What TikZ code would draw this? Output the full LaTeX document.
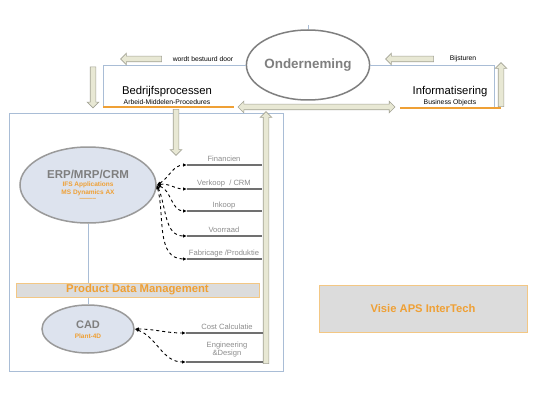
\documentclass[tikz,border=0pt]{standalone}
\usepackage{fontspec}
\setmainfont{Liberation Sans}
\usetikzlibrary{shapes.arrows,shapes.geometric,arrows.meta}
\definecolor{orng}{HTML}{EFA035}
\definecolor{txtgray}{HTML}{7F7F7F}
\definecolor{fngray}{HTML}{8C8C8C}
\definecolor{lblue}{HTML}{A9BDD6}
\definecolor{ellfill}{HTML}{DDE3EE}
\definecolor{ellbord}{HTML}{9A9A9A}
\definecolor{arrfill}{HTML}{E8E8D4}
\definecolor{arrbord}{HTML}{A3A395}
\definecolor{boxfill}{HTML}{DCDCDC}
\definecolor{boxbord}{HTML}{F3C784}
\definecolor{fnline}{HTML}{707070}
\tikzset{
  blockarrow/.style={single arrow, draw=arrbord, fill=arrfill, line width=0.6pt,
    minimum height=#1, minimum width=11pt, single arrow head extend=3pt,
    single arrow head indent=0pt, inner xsep=0pt, inner ysep=2.5pt},
  dblarrow/.style={double arrow, draw=arrbord, fill=arrfill, line width=0.6pt,
    minimum height=#1, minimum width=11pt, double arrow head extend=3pt,
    double arrow head indent=0pt, inner xsep=0pt, inner ysep=2.5pt},
  fnlabel/.style={font=\fontsize{7.6}{8.5}\selectfont, text=fngray, inner sep=0pt, align=center},
  fnl/.style={draw=fnline, line width=2.4pt},
  dasharr/.style={dashed, line width=0.9pt, {Latex[length=4pt,width=3.5pt]}-{Latex[length=4pt,width=3.5pt]}},
  smalltxt/.style={font=\fontsize{6.8}{7.5}\selectfont, inner sep=0pt},
  bigtxt/.style={font=\fontsize{11.3}{13}\selectfont, inner sep=0pt},
  orngtxt/.style={font=\bfseries\fontsize{6.5}{7.5}\selectfont, text=orng, inner sep=0pt, align=center},
  barbox/.style={draw=boxbord, fill=boxfill, line width=0.8pt, inner sep=0pt, text=orng},
}
\begin{document}
\begin{tikzpicture}[x=1pt,y=-1pt]
\useasboundingbox (0,0) rectangle (560,420);

% Onderneming
\coordinate (ontop) at (308,25);
\node[ellipse, draw=txtgray, line width=1.5pt, fill=white, minimum width=102pt, minimum height=70pt, inner sep=0pt,
  font=\bfseries\fontsize{13.4}{15}\selectfont, text=txtgray] (ond) at (308,65) {Onderneming};
\draw[lblue, line width=0.6pt] (ontop) -- (ond.north);

% frame lines
\coordinate (bl) at (103,65);
\coordinate (blb) at (103,107);
\coordinate (br) at (494,65);
\coordinate (brb) at (494,108);
\draw[lblue, line width=0.8pt] (ond.west) -- (bl) -- (blb);
\draw[lblue, line width=0.8pt] (ond.east) -- (br) -- (brb);

% orange lines
\coordinate (bo1) at (103,107);
\coordinate (bo2) at (234,107);
\coordinate (io1) at (400,108);
\coordinate (io2) at (501,108);
\draw[orng, line width=2pt] (bo1) -- (bo2);
\draw[orng, line width=2pt] (io1) -- (io2);

% texts top
\node[bigtxt] (bedr) at (167,92) {Bedrijfsprocessen};
\node[smalltxt] (amp) at (167,102.5) {Arbeid-Middelen-Procedures};
\node[bigtxt] (info) at (450,92) {Informatisering};
\node[smalltxt] (bo) at (450,102.5) {Business Objects};
\node[smalltxt] (wbd) at (203,59) {wordt bestuurd door};
\node[smalltxt] (bijs) at (463,59) {Bijsturen};

% block arrows top
\node[blockarrow=41pt, rotate=180] (a1) at (142.5,59) {};
\node[blockarrow=48pt, rotate=180] (a2) at (411,59) {};
\node[blockarrow=41pt, rotate=270] (a3) at (93,86) {};
\node[blockarrow=44pt, rotate=90] (a4) at (501,86) {};
\node[dblarrow=157pt] (a5) at (316.5,107) {};

% big frame
\draw[lblue, line width=1pt] (9,113) rectangle (283,371);
\node[blockarrow=46pt, rotate=270] (a6) at (176,131) {};
\node[blockarrow=252pt, rotate=90] (a7) at (266,239) {};

% ERP ellipse
\node[ellipse, draw=ellbord, line width=1.5pt, fill=ellfill, minimum width=136pt, minimum height=76pt, inner sep=0pt] (erp) at (88,185) {};
\node[font=\bfseries\fontsize{11.5}{13}\selectfont, text=txtgray, inner sep=0pt] (erpt) at (88,174) {ERP/MRP/CRM};
\node[orngtxt] (ifs) at (88,185) {IFS Applications};
\node[orngtxt] (msd) at (88,192.5) {MS Dynamics AX};
\node[orngtxt] (dsh) at (88,199) {--------};

% function lines
\foreach \n/\y/\t in {fin/165/Financien, ver/189/{Verkoop\ \ / CRM}, ink/211/Inkoop, voo/236/Voorraad, fab/259/{Fabricage /Produktie}}{
  \coordinate (\n0) at (187,\y);
  \coordinate (\n1) at (262,\y);
  \draw[fnl] (\n0) -- (\n1);
  \node[fnlabel, anchor=base] (\n l) at (224,\y-4) {\t};
}
\draw[dasharr] (erp.east) to[out=30,in=180] (fin0);
\draw[dasharr] (erp.east) to[out=10,in=180] (ver0);
\draw[dasharr] (erp.east) to[out=-20,in=180] (ink0);
\draw[dasharr] (erp.east) to[out=-65,in=180] (voo0);
\draw[dasharr] (erp.east) to[out=-75,in=180] (fab0);

% CAD ellipse
\node[ellipse, draw=ellbord, line width=1.5pt, fill=ellfill, minimum width=92pt, minimum height=48pt, inner sep=0pt] (cad) at (88,329) {};
\draw[lblue, line width=0.8pt] (erp.south) -- (cad.north);

% PDM bar
\node[barbox, minimum width=243pt, minimum height=14pt,
  font=\bfseries\fontsize{11.3}{13}\selectfont] (pdm) at (137.5,290) {Product Data Management};
\node[font=\bfseries\fontsize{11}{13}\selectfont, text=txtgray, inner sep=0pt] (cadt) at (88,325) {CAD};
\node[orngtxt] (plant) at (88,336.5) {Plant-4D};

\coordinate (cc0) at (186,333);
\coordinate (cc1) at (263,333);
\coordinate (en0) at (186,362);
\coordinate (en1) at (263,362);
\draw[fnl] (cc0) -- (cc1);
\draw[fnl] (en0) -- (en1);
\node[fnlabel, anchor=base] (ccl) at (227,329) {Cost Calculatie};
\node[fnlabel] (enl) at (227,349.5) {Engineering\\[-1pt]\&Design};
\draw[dasharr] (cad.east) to[out=0,in=180] (cc0);
\draw[dasharr] (cad.east) to[out=-20,in=180] (en0);

% Visie box
\node[barbox, minimum width=208pt, minimum height=47pt,
  font=\bfseries\fontsize{11.2}{13}\selectfont] (visie) at (423,308.5) {Visie APS InterTech};
\end{tikzpicture}
\end{document}
